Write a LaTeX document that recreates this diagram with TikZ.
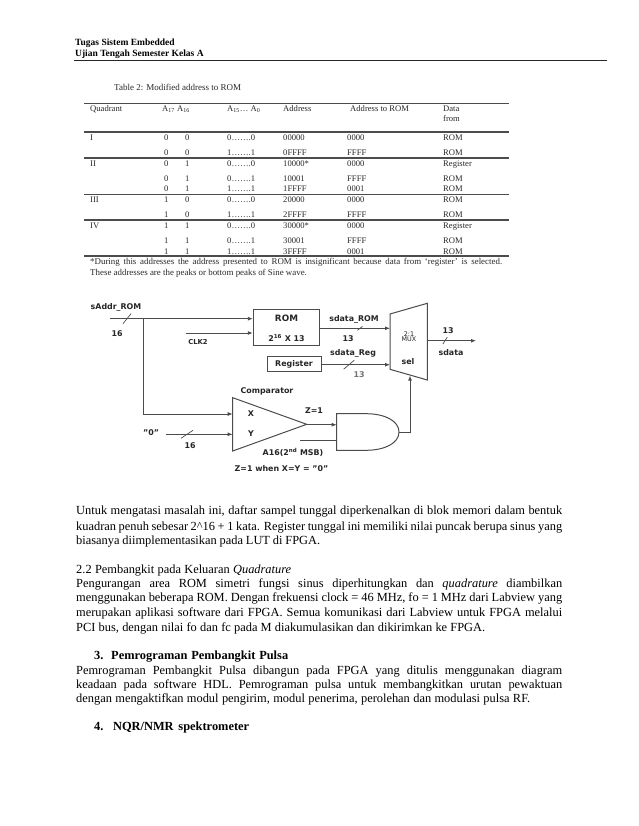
\documentclass[tikz,border=0pt]{standalone}
\usepackage{fontspec}
\setmainfont{Liberation Serif}
\setsansfont{DejaVu Sans}
\usetikzlibrary{arrows.meta}
\definecolor{tblgray}{gray}{0.3}
\definecolor{tbltext}{gray}{0.16}
\definecolor{diag}{gray}{0.3}
\tikzset{
 x=1pt,y=-1pt,
 tbl/.style={font=\fontsize{8.6}{9}\selectfont,text=tbltext,anchor=base west,inner sep=0},
 rule/.style={draw=tblgray,line width=1.2pt},
 wire/.style={draw=diag,line width=0.9pt},
 arr/.style={wire,-{Latex[length=5pt,width=4pt]}},
 slash/.style={draw=diag,line width=0.7pt},
 lab/.style={font=\sffamily\bfseries\fontsize{7.9}{8}\selectfont,text=black!85,inner sep=0},
 blk/.style={draw=diag,line width=1pt},
 body/.style={font=\fontsize{12.4}{14}\selectfont,anchor=base west,inner sep=0},
}
\newcommand{\jl}[3]{\node[body] at (76,#1) {\makebox[#2pt][s]{#3}};}
\newcommand{\trow}[8]{%
 \node[tbl] at (164,#1){#2}; \node[tbl] at (185,#1){#3};
 \node[tbl] at (227,#1){#4}; \node[tbl] at (283,#1){#5};
 \node[tbl] at (347,#1){#6}; \node[tbl] at (443,#1){#7};
 \ifx&#8&\else\node[tbl] at (90,#1){#8};\fi}
\begin{document}
\begin{tikzpicture}
\useasboundingbox[fill=white] (0,0) rectangle (638,826);
% header
\node[anchor=base west,inner sep=0,font=\bfseries\fontsize{9.5}{10}\selectfont] (h1) at (75,46) {Tugas Sistem Embedded};
\node[anchor=base west,inner sep=0,font=\bfseries\fontsize{9.5}{10}\selectfont] (h2) at (75,57) {Ujian Tengah Semester Kelas A};
\draw[line width=0.9pt,black!85] (74,60) -- (607,60);
% table
\node[tbl,font=\fontsize{9}{9}\selectfont] at (114,91) {Table 2: Modified address to ROM};
\foreach \yy in {103.7,132,158,194.7,220,256}{\draw[rule] (84,\yy) -- (509,\yy);}
\node[tbl] at (90,112) {Quadrant};
\node[tbl] at (162,112) {A\textsubscript{17} A\textsubscript{16}};
\node[tbl] at (227,112) {A\textsubscript{15}\dots\ A\textsubscript{0}};
\node[tbl] at (283,112) {Address};
\node[tbl] at (350,112) {Address to ROM};
\node[tbl] at (443,112) {Data};
\node[tbl] at (443,122) {from};
\trow{141}{0}{0}{0\dots\dots.0}{00000}{0000}{ROM}{I}
\trow{156}{0}{0}{1\dots\dots.1}{0FFFF}{FFFF}{ROM}{}
\trow{166.5}{0}{1}{0\dots\dots.0}{10000*}{0000}{Register}{II}
\trow{181.5}{0}{1}{0\dots\dots.1}{10001}{FFFF}{ROM}{}
\trow{192}{0}{1}{1\dots\dots.1}{1FFFF}{0001}{ROM}{}
\trow{203}{1}{0}{0\dots\dots.0}{20000}{0000}{ROM}{III}
\trow{218}{1}{0}{1\dots\dots.1}{2FFFF}{FFFF}{ROM}{}
\trow{229}{1}{1}{0\dots\dots.0}{30000*}{0000}{Register}{IV}
\trow{243}{1}{1}{0\dots\dots.1}{30001}{FFFF}{ROM}{}
\trow{254}{1}{1}{1\dots\dots.1}{3FFFF}{0001}{ROM}{}
\node[tbl,font=\fontsize{8.9}{9}\selectfont] at (90,264.5) {\makebox[412pt][s]{*During this addresses the address presented to ROM is insignificant because data from ‘register’ is selected.}};
\node[tbl,font=\fontsize{8.9}{9}\selectfont] at (90,275) {These addresses are the peaks or bottom peaks of Sine wave.};
% diagram blocks
\node[blk,minimum width=66pt,minimum height=35.7pt,inner sep=0] (rom) at (286.3,327.2) {};
\node[lab,font=\sffamily\bfseries\fontsize{8.8}{9}\selectfont] at (286.5,318) {ROM};
\node[lab] at (286.5,338) {2\textsuperscript{16} X 13};
\node[blk,minimum width=54.3pt,minimum height=15.7pt,inner sep=0] (reg) at (294.2,363.9) {};
\node[lab] at (294,364) {Register};
\coordinate (mtl) at (390,314); \coordinate (mtr) at (427.3,303.3);
\coordinate (mbr) at (427.3,380); \coordinate (mbl) at (390,369.3);
\draw[blk] (mtl) -- (mtr) -- (mbr) -- (mbl) -- cycle;
\node[lab,font=\sffamily\fontsize{6.4}{7}\selectfont,align=center] at (409,336.5) {2:1\\[-1.5pt]MUX};
\node[lab] at (408,362) {sel};
\coordinate (ca) at (232.7,397.7); \coordinate (cb) at (232.7,451); \coordinate (ct) at (306.7,424.3);
\draw[blk] (ca) -- (ct) -- (cb) -- cycle;
\node[lab] at (251,414) {X}; \node[lab] at (251,433.5) {Y};
\node[lab] at (267,391) {Comparator};
\node[lab] at (293,452.5) {A16(2\textsuperscript{nd} MSB)};
\node[lab] at (281.5,469) {Z=1 when X=Y = "0"};
\coordinate (ga) at (336.7,413.7); \coordinate (gb) at (336.7,450.3); \coordinate (gt) at (399,432);
\draw[blk] (ga) -- (366,413.7) .. controls (385,413.7) and (399,421) .. (gt) .. controls (399,443) and (385,450.3) .. (366,450.3) -- (gb) -- cycle;
% wires
\coordinate (s0) at (110,318.7); \coordinate (br) at (143.7,318.7);
\draw[arr] (s0) -- (rom.west |- s0);
\coordinate (clk) at (186,333); \draw[arr] (clk) -- (rom.west |- clk);
\coordinate (cx) at (232.7,414); \draw[arr] (br) |- (cx);
\coordinate (z0) at (166,434.3); \coordinate (cy) at (232.7,434.3); \draw[arr] (z0) -- (cy);
\coordinate (r1) at (390,328.3); \draw[arr] (rom.east |- r1) -- (r1);
\coordinate (r2) at (390,364.7); \draw[arr] (reg.east |- r2) -- (r2);
\coordinate (ot) at (476,340.7); \coordinate (om) at (427.3,340.7); \draw[arr] (om) -- (ot);
\coordinate (gi1) at (336.7,424.7); \draw[arr] (ct |- gi1) -- (gi1);
\coordinate (g2s) at (300,440); \coordinate (g2e) at (336.7,440); \draw[wire] (g2s) -- (g2e);
\coordinate (ms) at (410,375.6); \draw[arr] (gt) -| (ms);
% bus slashes
\foreach \xx/\yy/\dx/\dy in {127/318.7/4/5,187/434.3/6/4,360/328.3/2.5/2,349/364.7/5.3/4.5,445/340.7/2.2/3.5}{\draw[slash] (\xx-\dx,\yy+\dy) -- (\xx+\dx,\yy-\dy);}
% labels
\node[lab] at (116,307.5) {sAddr\_ROM};
\node[lab] at (117,333.5) {16};
\node[lab,font=\sffamily\bfseries\fontsize{6.8}{7}\selectfont] at (198,342.5) {CLK2};
\node[lab] at (151,433) {"0"};
\node[lab] at (190,446) {16};
\node[lab] at (354,319) {sdata\_ROM};
\node[lab] at (348,339) {13};
\node[lab] at (353,353) {sdata\_Reg};
\node[lab,text=black!55] at (359,375) {13};
\node[lab] at (448,331) {13};
\node[lab] at (451,352.7) {sdata};
\node[lab] at (314,411) {Z=1};
% body
\jl{514}{486}{Untuk mengatasi masalah ini, daftar sampel tunggal diperkenalkan di blok memori dalam bentuk}
\jl{530}{486}{kuadran penuh sebesar 2\textasciicircum16 + 1 kata. Register tunggal ini memiliki nilai puncak berupa sinus yang}
\jl{544}{244}{biasanya diimplementasikan pada LUT di FPGA.}
\jl{573.7}{215}{2.2 Pembangkit pada Keluaran \textit{Quadrature}}
\jl{587.7}{486}{Pengurangan area ROM simetri fungsi sinus diperhitungkan dan \textit{quadrature} diambilkan}
\jl{601.7}{486}{menggunakan beberapa ROM. Dengan frekuensi clock = 46 MHz, fo = 1 MHz dari Labview yang}
\jl{616}{486}{merupakan aplikasi software dari FPGA. Semua komunikasi dari Labview untuk FPGA melalui}
\jl{631.7}{409}{PCI bus, dengan nilai fo dan fc pada M diakumulasikan dan dikirimkan ke FPGA.}
\node[body,font=\bfseries\fontsize{12.4}{14}\selectfont] at (94,659) {\makebox[194pt][s]{3.\ \ Pemrograman Pembangkit Pulsa}};
\jl{674}{486}{Pemrograman Pembangkit Pulsa dibangun pada FPGA yang ditulis menggunakan diagram}
\jl{688}{486}{keadaan pada software HDL. Pemrograman pulsa untuk membangkitkan urutan pewaktuan}
\jl{702.7}{454}{dengan mengaktifkan modul pengirim, modul penerima, perolehan dan modulasi pulsa RF.}
\node[body,font=\bfseries\fontsize{12.4}{14}\selectfont] at (94,730.7) {\makebox[155pt][s]{4.\ \ NQR/NMR spektrometer}};
\end{tikzpicture}
\end{document}
